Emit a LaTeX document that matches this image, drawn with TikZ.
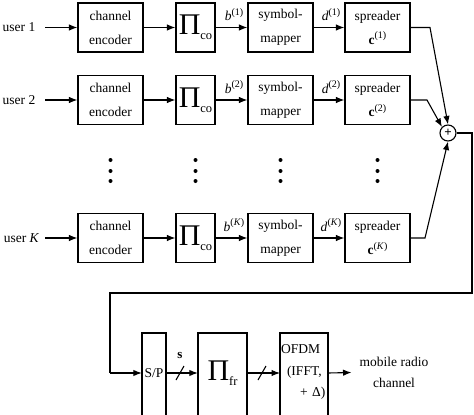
\documentclass[tikz,border=0pt]{standalone}
\usepackage{fontspec}
\setmainfont{Liberation Serif}
\usetikzlibrary{arrows.meta}
\newcommand{\PiSym}[1]{{\fontsize{30}{30}\selectfont Π}\raisebox{-5pt}{\fontsize{12.5}{12.5}\selectfont #1}}
\newcommand{\sups}[1]{\raisebox{5.5pt}{\fontsize{10}{10}\selectfont #1}}
\begin{document}
\begin{tikzpicture}[x=1pt,y=-1pt,
  blk/.style={draw, line width=1.1pt, inner sep=0pt, align=center, minimum height=49pt, font=\fontsize{13.5}{24}\selectfont},
  wide/.style={blk, minimum width=65pt},
  narrow/.style={blk, minimum width=39pt},
  tall/.style={inner sep=0pt, align=center, font=\fontsize{13.5}{21.5}\selectfont},
  tallbox/.style={draw, line width=1.1pt},
  arr/.style={line width=1.1pt, -{Latex[length=8.5pt,width=6.5pt]}},
  ln/.style={line width=1.1pt},
  usr/.style={font=\fontsize{13.5}{16}\selectfont, anchor=east, inner sep=0pt},
  lbl/.style={font=\fontsize{13.5}{15}\selectfont, inner sep=0pt},
  dot/.style={circle, fill, inner sep=0pt, minimum size=4pt}]
\clip (0,0) rectangle (474,415);
% --- rows ---
\foreach \r/\y/\u/\k/\ux in {1/27.5/1/1/35.5, 2/100/2/2/35.5, K/238/\textit{K}/\textit{K}/39.5}{
  \node[usr] (u\r) at (\ux,\y) {user \u};
  \node[wide] (enc\r) at (110.5,\y) {channel\\encoder};
  \node[narrow] (pi\r) at (195.5,\y) {\PiSym{co}};
  \node[wide] (map\r) at (280.5,\y) {symbol-\\mapper};
  \node[wide] (spr\r) at (377.5,\y) {spreader\\\textbf{c}\sups{(\k)}};
  \node[lbl] (b\r) at (234,\y-13) {\textit{b}\sups{(\k)}};
  \node[lbl] (d\r) at (331,\y-13) {\textit{d}\sups{(\k)}};
  \draw[arr] ([xshift=45pt-\ux pt]u\r.east) -- (enc\r.west);
  \draw[arr] (enc\r.east) -- (pi\r.west);
  \draw[arr] (pi\r.east) -- (map\r.west);
  \draw[arr] (map\r.east) -- (spr\r.west);
}
% --- dots ---
\foreach \x in {110.5,195.5,280.5,377.5}{
  \foreach \yy in {160,171,181}{
    \node[dot] at (\x,\yy) {};
  }
}
% --- summation ---
\node[draw, circle, line width=1.1pt, minimum size=16pt, inner sep=0pt, font=\fontsize{13}{13}\selectfont\bfseries] (sum) at (448,133) {+};
\coordinate (k1) at (430,27.5);
\coordinate (k2) at (427,100);
\coordinate (kK) at (425,238);
\draw[arr] (spr1.east) -- (k1) -- (sum.north);
\draw[arr] (spr2.east) -- (k2) -- (sum.north west);
\draw[arr] (sprK.east) -- (kK) -- (sum.south);
% --- bottom chain ---
\node[tall, minimum width=24pt] (sp) at (154,373) {S/P};
\node[tall, minimum width=49pt] (pifr) at (222.5,373) {\PiSym{fr}};
\node[tall, text width=46pt, align=left] (ofdm) at (304,372) {OFDM\\\hspace*{6pt}(IFFT,\\\hspace*{19pt}+ Δ)};
\draw[tallbox] (142,430) -- (142,333) -- (166,333) -- (166,430);
\draw[tallbox] (198,430) -- (198,333) -- (247,333) -- (247,430);
\draw[tallbox] (280,430) -- (280,333) -- (328,333) -- (328,430);
\coordinate (ofdmE) at (328,373);
\coordinate (ofdmW) at (280,373);
\node[tall] (mob) at (394,372.5) {mobile radio\\channel};
\coordinate (c1) at (472,133);
\coordinate (c2) at (472,293);
\coordinate (c3) at (110,293);
\coordinate (c4) at (110,373);
\draw[ln] (sum.east) -- (c1) -- (c2) -- (c3) -- (c4);
\draw[arr] (c4) -- (sp.west);
\draw[arr] (sp.east) -- (pifr.west);
\draw[arr] (pifr.east) -- (ofdmW);
\draw[arr] (ofdmE) -- ([xshift=-8pt]mob.west);
\node[lbl, font=\fontsize{13}{15}\selectfont\bfseries] (s) at (180,355) {s};
\coordinate (sl1a) at (176,380);
\coordinate (sl1b) at (184,366);
\coordinate (sl2a) at (258,380);
\coordinate (sl2b) at (266,366);
\draw[ln] (sl1a) -- (sl1b);
\draw[ln] (sl2a) -- (sl2b);
\end{tikzpicture}
\end{document}
